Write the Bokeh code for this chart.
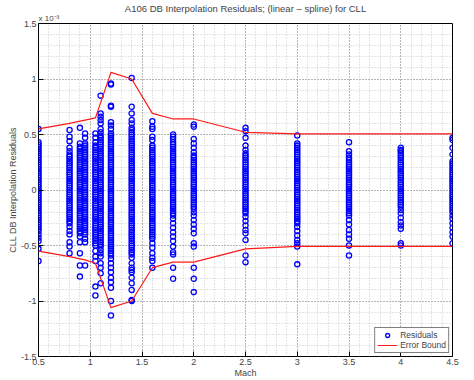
from bokeh.plotting import figure
from bokeh.models import (SingleIntervalTicker, Title, Legend,
                          LegendItem, ColumnDataSource, Range1d)
from bokeh.embed import file_html
from bokeh.resources import INLINE

# ---------------- data (residuals in units of 1e-3) ----------------
mach_cols = [0.5, 0.8, 0.9, 0.95, 1.05, 1.1, 1.2, 1.4, 1.6, 1.8, 2.0, 2.5, 3.0, 3.5, 4.0, 4.5]

res_m050 = [0.55, 0.43, 0.41, 0.39, 0.37, 0.35, 0.33, 0.31, 0.29, 0.27, 0.25, 0.23, 0.21, 0.19, 0.17, 0.15, 0.13, 0.11, 0.09, 0.07, 0.05, 0.03, 0.01, -0.01, -0.03, -0.05, -0.07, -0.09, -0.11, -0.13, -0.15, -0.17, -0.19, -0.21, -0.23, -0.25, -0.27, -0.29, -0.31, -0.33, -0.35, -0.37, -0.40, -0.43, -0.46, -0.53, -0.64]
res_m080 = [0.54, 0.48, 0.44, 0.38, 0.35, 0.32, 0.30, 0.28, 0.26, 0.24, 0.22, 0.20, 0.18, 0.16, 0.14, 0.12, 0.10, 0.08, 0.06, 0.04, 0.02, 0.00, -0.02, -0.04, -0.06, -0.08, -0.10, -0.12, -0.14, -0.16, -0.18, -0.20, -0.22, -0.24, -0.26, -0.28, -0.30, -0.33, -0.37, -0.40, -0.47, -0.51, -0.57]
res_m090 = [0.56, 0.42, 0.39, 0.37, 0.35, 0.33, 0.31, 0.29, 0.27, 0.25, 0.23, 0.21, 0.19, 0.17, 0.15, 0.13, 0.11, 0.09, 0.07, 0.05, 0.03, 0.01, -0.01, -0.03, -0.05, -0.07, -0.09, -0.11, -0.13, -0.15, -0.17, -0.19, -0.21, -0.23, -0.25, -0.27, -0.29, -0.31, -0.33, -0.35, -0.37, -0.39, -0.42, -0.47, -0.57, -0.68, -0.78]
res_m095 = [0.51, 0.47, 0.42, 0.40, 0.38, 0.36, 0.34, 0.32, 0.30, 0.28, 0.26, 0.24, 0.22, 0.20, 0.18, 0.16, 0.14, 0.12, 0.10, 0.08, 0.06, 0.04, 0.02, 0.00, -0.02, -0.04, -0.06, -0.08, -0.10, -0.12, -0.14, -0.16, -0.18, -0.20, -0.22, -0.24, -0.26, -0.28, -0.30, -0.32, -0.34, -0.36, -0.38, -0.40, -0.44, -0.47, -0.68]
res_m105 = [0.51, 0.47, 0.43, 0.40, 0.38, 0.36, 0.34, 0.32, 0.30, 0.28, 0.26, 0.24, 0.22, 0.20, 0.18, 0.16, 0.14, 0.12, 0.10, 0.08, 0.06, 0.04, 0.02, 0.00, -0.02, -0.04, -0.06, -0.08, -0.10, -0.12, -0.14, -0.16, -0.18, -0.20, -0.22, -0.24, -0.26, -0.28, -0.30, -0.32, -0.34, -0.36, -0.38, -0.40, -0.42, -0.44, -0.46, -0.48, -0.50, -0.55, -0.60, -0.64, -0.87, -0.95]
res_m110 = [0.85, 0.69, 0.66, 0.63, 0.60, 0.55, 0.52, 0.49, 0.47, 0.45, 0.43, 0.41, 0.39, 0.37, 0.35, 0.33, 0.31, 0.29, 0.27, 0.25, 0.23, 0.21, 0.19, 0.17, 0.15, 0.13, 0.11, 0.09, 0.07, 0.05, 0.03, 0.01, -0.01, -0.03, -0.05, -0.07, -0.09, -0.11, -0.13, -0.15, -0.17, -0.19, -0.21, -0.23, -0.25, -0.27, -0.29, -0.31, -0.33, -0.35, -0.37, -0.39, -0.41, -0.43, -0.45, -0.47, -0.49, -0.51, -0.54, -0.57, -0.60, -0.66, -0.70, -0.75, -0.84]
res_m120 = [0.96, 0.95, 0.76, 0.75, 0.61, 0.58, 0.55, 0.51, 0.49, 0.47, 0.45, 0.43, 0.41, 0.39, 0.37, 0.35, 0.33, 0.31, 0.29, 0.27, 0.25, 0.23, 0.21, 0.19, 0.17, 0.15, 0.13, 0.11, 0.09, 0.07, 0.05, 0.03, 0.01, -0.01, -0.03, -0.05, -0.07, -0.09, -0.11, -0.13, -0.15, -0.17, -0.19, -0.21, -0.23, -0.25, -0.27, -0.29, -0.31, -0.33, -0.35, -0.37, -0.39, -0.41, -0.43, -0.45, -0.47, -0.49, -0.51, -0.53, -0.55, -0.57, -0.59, -0.62, -0.66, -0.70, -0.74, -0.79, -0.83, -0.88, -1.00, -1.13]
res_m140 = [1.01, 0.75, 0.69, 0.63, 0.60, 0.56, 0.54, 0.52, 0.50, 0.48, 0.46, 0.44, 0.42, 0.40, 0.38, 0.36, 0.34, 0.32, 0.30, 0.28, 0.26, 0.24, 0.22, 0.20, 0.18, 0.16, 0.14, 0.12, 0.10, 0.08, 0.06, 0.04, 0.02, 0.00, -0.02, -0.04, -0.06, -0.08, -0.10, -0.12, -0.14, -0.16, -0.18, -0.20, -0.22, -0.24, -0.26, -0.28, -0.30, -0.32, -0.34, -0.36, -0.38, -0.40, -0.42, -0.44, -0.46, -0.48, -0.50, -0.52, -0.54, -0.56, -0.58, -0.61, -0.66, -0.70, -0.72, -0.74, -0.79, -0.84, -0.90, -0.99, -1.00]
res_m160 = [0.62, 0.57, 0.55, 0.48, 0.45, 0.40, 0.38, 0.36, 0.34, 0.32, 0.30, 0.28, 0.26, 0.24, 0.22, 0.20, 0.18, 0.16, 0.14, 0.12, 0.10, 0.08, 0.06, 0.04, 0.02, 0.00, -0.02, -0.04, -0.06, -0.08, -0.10, -0.12, -0.14, -0.16, -0.18, -0.20, -0.22, -0.24, -0.26, -0.28, -0.30, -0.32, -0.34, -0.36, -0.38, -0.40, -0.42, -0.44, -0.48, -0.52, -0.57, -0.61, -0.64, -0.70]
res_m180 = [0.50, 0.48, 0.46, 0.43, 0.41, 0.39, 0.37, 0.35, 0.33, 0.31, 0.29, 0.27, 0.25, 0.23, 0.21, 0.19, 0.17, 0.15, 0.13, 0.11, 0.09, 0.07, 0.05, 0.03, 0.01, -0.01, -0.03, -0.05, -0.07, -0.09, -0.11, -0.13, -0.15, -0.17, -0.19, -0.21, -0.23, -0.26, -0.30, -0.34, -0.38, -0.42, -0.46, -0.51, -0.56, -0.58, -0.70, -0.80]
res_m200 = [0.59, 0.57, 0.46, 0.42, 0.38, 0.34, 0.31, 0.29, 0.27, 0.25, 0.23, 0.21, 0.19, 0.17, 0.15, 0.13, 0.11, 0.09, 0.07, 0.05, 0.03, 0.01, -0.01, -0.03, -0.05, -0.07, -0.09, -0.11, -0.13, -0.15, -0.17, -0.20, -0.23, -0.27, -0.31, -0.35, -0.39, -0.48, -0.51, -0.70, -0.80, -0.92]
res_m250 = [0.56, 0.53, 0.47, 0.40, 0.36, 0.33, 0.31, 0.29, 0.27, 0.25, 0.23, 0.21, 0.19, 0.17, 0.15, 0.13, 0.11, 0.09, 0.07, 0.05, 0.03, 0.01, -0.01, -0.03, -0.05, -0.07, -0.09, -0.11, -0.13, -0.15, -0.17, -0.19, -0.21, -0.24, -0.28, -0.32, -0.36, -0.39, -0.45, -0.59, -0.65]
res_m300 = [0.49, 0.42, 0.40, 0.38, 0.36, 0.34, 0.32, 0.30, 0.28, 0.26, 0.24, 0.22, 0.20, 0.18, 0.16, 0.14, 0.12, 0.10, 0.08, 0.06, 0.04, 0.02, 0.00, -0.02, -0.04, -0.06, -0.08, -0.10, -0.12, -0.14, -0.16, -0.18, -0.20, -0.22, -0.24, -0.26, -0.28, -0.30, -0.33, -0.37, -0.41, -0.45, -0.48, -0.51, -0.67]
res_m350 = [0.43, 0.35, 0.32, 0.29, 0.27, 0.25, 0.23, 0.21, 0.19, 0.17, 0.15, 0.13, 0.11, 0.09, 0.07, 0.05, 0.03, 0.01, -0.01, -0.03, -0.05, -0.07, -0.09, -0.11, -0.13, -0.15, -0.17, -0.19, -0.21, -0.23, -0.27, -0.31, -0.36, -0.40, -0.44, -0.50, -0.59]
res_m400 = [0.38, 0.36, 0.35, 0.33, 0.31, 0.29, 0.27, 0.25, 0.23, 0.21, 0.19, 0.17, 0.15, 0.13, 0.11, 0.09, 0.07, 0.05, 0.03, 0.01, -0.01, -0.03, -0.05, -0.07, -0.09, -0.11, -0.13, -0.15, -0.18, -0.21, -0.25, -0.29, -0.32, -0.35, -0.48, -0.50]
res_m450 = [0.47, 0.45, 0.38, 0.32, 0.26, 0.24, 0.22, 0.20, 0.18, 0.16, 0.14, 0.12, 0.10, 0.08, 0.06, 0.04, 0.02, 0.00, -0.02, -0.04, -0.06, -0.08, -0.10, -0.12, -0.14, -0.16, -0.18, -0.20, -0.23, -0.26, -0.30, -0.34, -0.38, -0.42, -0.48]

residual_cols = [res_m050, res_m080, res_m090, res_m095, res_m105, res_m110, res_m120,
                 res_m140, res_m160, res_m180, res_m200, res_m250, res_m300, res_m350,
                 res_m400, res_m450]

bound_mach = [0.5, 0.8, 0.9, 0.95, 1.05, 1.2, 1.4, 1.6, 1.8, 2.0, 2.5, 3.0, 3.5, 4.0, 4.5]
bound_upper = [0.55, 0.60, 0.62, 0.63, 0.65, 1.06, 1.00, 0.69, 0.64, 0.64, 0.52, 0.505, 0.505, 0.505, 0.505]
bound_lower = [-0.55, -0.60, -0.62, -0.63, -0.66, -1.06, -1.00, -0.70, -0.65, -0.65, -0.53, -0.507, -0.507, -0.507, -0.507]

x_ticks = [0.5, 1.0, 1.5, 2.0, 2.5, 3.0, 3.5, 4.0, 4.5]
x_tick_labels = ["0.5", "1", "1.5", "2", "2.5", "3", "3.5", "4", "4.5"]
y_ticks = [-1.5, -1.0, -0.5, 0.0, 0.5, 1.0, 1.5]
y_tick_labels = ["-1.5", "-1", "-0.5", "0", "0.5", "1", "1.5"]

title_text = "A106 DB Interpolation Residuals; (linear \u2013 spline) for CLL"
x_label = "Mach"
y_label = "CLL DB Interpolation Residuals"
exp_text = "x 10\u207b\u00b3"

# ---------------- build ----------------
xs, ys = [], []
for m, col in zip(mach_cols, residual_cols):
    xs.extend([m] * len(col))
    ys.extend(col)
src = ColumnDataSource(dict(x=xs, y=ys))

FONT = "Liberation Sans"

p = figure(width=474, height=380, x_range=Range1d(0.5, 4.5), y_range=Range1d(-1.5, 1.5),
           output_backend="svg", toolbar_location=None,
           min_border_left=38, min_border_right=22, min_border_top=0, min_border_bottom=23)

p.title.text = title_text
p.title.align = "center"
p.title.vertical_align = "bottom"
p.title.text_font = FONT
p.title.text_font_size = "9.5px"
p.title.text_font_style = "normal"
p.title.standoff = 1
p.title.offset = 0

# exponent marker of the y axis, just above the top-left corner of the box
p.add_layout(Title(text=exp_text, align="left", vertical_align="top", offset=0,
                   standoff=-2, text_font=FONT, text_font_size="8px",
                   text_font_style="normal"), "above")

p.outline_line_color = "black"
p.outline_line_width = 1
p.background_fill_color = "white"
p.border_fill_color = "white"

xt = SingleIntervalTicker(interval=0.5, num_minor_ticks=5)
yt = SingleIntervalTicker(interval=0.5, num_minor_ticks=5)
p.xaxis.ticker = xt
p.yaxis.ticker = yt
p.xaxis.major_label_overrides = {t: l for t, l in zip(x_ticks, x_tick_labels)}
p.yaxis.major_label_overrides = {t: l for t, l in zip(y_ticks, y_tick_labels)}

for ax in (p.xaxis[0], p.yaxis[0]):
    ax.axis_line_color = None
    ax.major_tick_in = 5
    ax.major_tick_out = 0
    ax.minor_tick_in = 0
    ax.minor_tick_out = 0
    ax.major_label_text_font = FONT
    ax.major_label_text_font_size = "9px"
    ax.major_label_standoff = 2
    ax.axis_label_text_font = FONT
    ax.axis_label_text_font_size = "9px"
    ax.axis_label_text_font_style = "normal"
    ax.axis_label_standoff = 0

p.xaxis.axis_label = x_label
p.yaxis.axis_label = y_label

p.xgrid.ticker = xt
p.ygrid.ticker = yt
for g in (p.xgrid[0], p.ygrid[0]):
    g.grid_line_color = "#808080"
    g.grid_line_dash = "1 2"
    g.grid_line_width = 1
    g.grid_line_alpha = 0.9
    g.minor_grid_line_color = "#c8c8c8"
    g.minor_grid_line_dash = "1 2"
    g.minor_grid_line_width = 1

r_pts = p.scatter("x", "y", source=src, marker="circle", size=5.2,
                  fill_color=None, line_color="#0000ff", line_width=1.3)
r_up = p.line(bound_mach, bound_upper, line_color="#ff1a1a", line_width=1.2)
r_lo = p.line(bound_mach, bound_lower, line_color="#ff1a1a", line_width=1.2)

legend = Legend(items=[LegendItem(label="Residuals", renderers=[r_pts]),
                       LegendItem(label="Error Bound", renderers=[r_up])],
                location="bottom_right")
legend.label_text_font = FONT
legend.label_text_font_size = "8.5px"
legend.label_height = 9
legend.glyph_height = 10
legend.glyph_width = 20
legend.label_standoff = 3
legend.padding = 2
legend.spacing = 0
legend.margin = 3
legend.border_line_color = "black"
legend.border_line_width = 1
legend.background_fill_alpha = 1
p.add_layout(legend)

open("out.html", "w").write(file_html(p, INLINE))
